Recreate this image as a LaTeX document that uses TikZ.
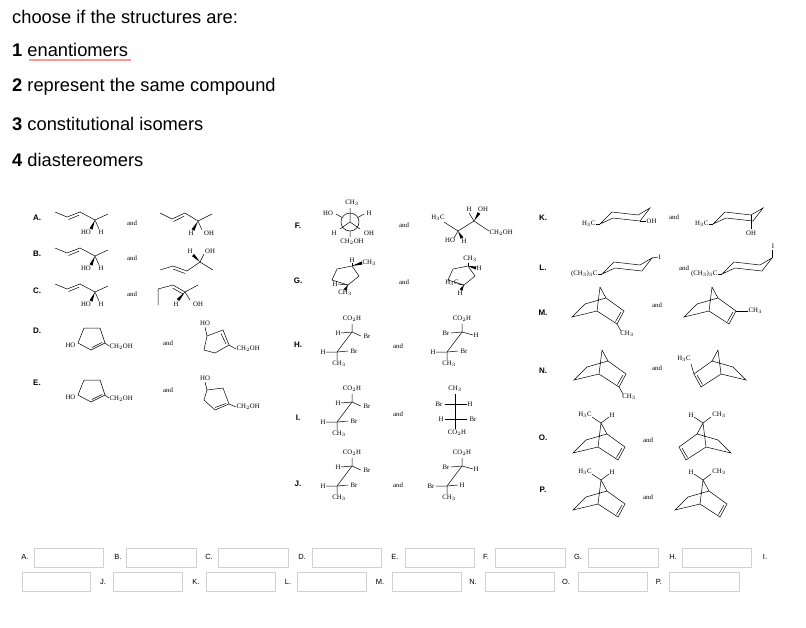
\documentclass[tikz,border=0pt]{standalone}
\usepackage{fontspec}
\setmainfont{Liberation Serif}
\newfontfamily\hdr{Liberation Sans}
\newfontfamily\lbl{Liberation Sans}
\usetikzlibrary{calc}
\tikzset{
 ch/.style={font=\fontsize{6.8}{6.8}\selectfont, inner sep=0.4pt},
 lb/.style={font=\lbl\bfseries\fontsize{8}{8}\selectfont, inner sep=0pt},
 bl/.style={font=\lbl\fontsize{7.5}{7.5}\selectfont, inner sep=0pt},
 hd/.style={font=\hdr\fontsize{18.3}{18.3}\selectfont, anchor=west, inner sep=0pt},
 bx/.style={draw=black!18, line width=0.6pt, fill=white},
 bond/.style={line width=0.5pt},
}
\newcommand{\wdg}[2]{\fill ($#1$) -- ($#2!1.6pt!90:#1$) -- ($#2!1.6pt!-90:#1$) -- cycle;}
\newcommand{\norb}{%
 \draw[bond] (0,0) -- (-3,24) (0,0) -- (6,11)
   (6,11) -- (-15,17) -- (-28,30) -- (-3,24)
   (6,11) -- (24,24) -- (17,37) -- (-3,24);
 \draw[bond] (21,25) -- (15.5,34.5);}
\newcommand{\chair}{%
 \draw[bond] (0,0) -- (12,-12) -- (38,-9) -- (50,-16) -- (40,-3) -- (13,-6) -- cycle;}
\newcommand{\cpent}{%
 \draw[bond] (0,0) -- (6,-15) -- (22,-15) -- (27,0) -- (13,7) -- cycle;}
\begin{document}
\begin{tikzpicture}[x=1pt,y=-1pt]
\useasboundingbox (0,0) rectangle (806,627);
\fill[white] (0,0) rectangle (806,627);
\node[hd] (h0) at (12,17) {choose if the structures are:};
\node[hd] (h1) at (12,50) {\textbf{1} enantiomers};
\draw[pink!80!red, line width=1.6pt] (29,60) -- (131,60);
\node[hd] (h2) at (12,87) {\textbf{2} represent the same compound};
\node[hd] (h3) at (12,124) {\textbf{3} constitutional isomers};
\node[hd] (h4) at (12,160) {\textbf{4} diastereomers};

\foreach \t/\x/\y in {A/37/218,B/37/254,C/37/291,D/37/331,E/37/383,
  F/298/226,G/298/281,H/298/345,I/298/418,J/298/484,
  K/543/218,L/543/268,M/543/313,N/543/371,O/543/438,P/543/490}
  \node[lb] (l\t) at (\x,\y) {\t.};
\foreach \n/\x/\y in {a/132/223,b/132/258,c/132/294,d/168/343,e/168/390,
  f/404/225,g/404/282,h/398/346,i/398/414,j/398/485,
  k/674/217,l/684/268,m/657/305,n/657/368,o/648/440,p/648/497}
  \node[ch] (and\n) at (\x,\y) {and};

\foreach \yy/\nm in {212/a,248/b,284/c}{
 \begin{scope}[shift={(55,\yy)}]
 \draw[bond] (0,0) -- (12,5) -- (25,0) -- (40,8) -- (53,2);
 \draw[bond] (13.5,7.5) -- (24,3.2);
 \wdg{(40,8)}{(36,17)}
 \draw[bond] (40,8) -- (44,17);
 \node[ch] (ho\nm) at (31,20) {HO};
 \node[ch] (h\nm) at (46,20) {H};
 \end{scope}}
\begin{scope}[shift={(160,213)}]
 \draw[bond] (0,0) -- (12,6) -- (25,0) -- (38,8) -- (52,1);
 \draw[bond] (13.5,8.5) -- (24,3.2);
 \wdg{(38,8)}{(33,17)}
 \draw[bond] (38,8) -- (42,17);
 \node[ch] (hA2) at (31,20) {H};
 \node[ch] (ohA2) at (49,20) {OH};
\end{scope}
\begin{scope}[shift={(160,270)}]
 \draw[bond] (0,0) -- (13,-4) -- (27,1) -- (40,-8) -- (53,0);
 \draw[bond] (13,-1) -- (25,3.5);
 \wdg{(40,-8)}{(33,-15)}
 \draw[bond] (40,-8) -- (44,-16);
 \node[ch] (hB2) at (30,-19) {H};
 \node[ch] (ohB2) at (50,-19) {OH};
\end{scope}
\begin{scope}[shift={(158,305)}]
 \draw[bond] (0,0) -- (0,-16) -- (15,-20) -- (27,-13) -- (40,-20);
 \draw[bond] (14.5,-17) -- (25,-11);
 \wdg{(27,-13)}{(20,-5)}
 \draw[bond] (27,-13) -- (32,-5);
 \node[ch] (hC2) at (18,-1) {H};
 \node[ch] (ohC2) at (40,-1) {OH};
\end{scope}

\foreach \yy/\nm in {343/d,395/e}{
 \begin{scope}[shift={(78,\yy)}]
 \cpent
 \draw[bond] (14,4.5) -- (24,-0.5);
 \node[ch,anchor=east] (hol\nm) at (-2,2) {HO};
 \node[ch,anchor=west] (chl\nm) at (31,4) {CH$_2$OH};
 \draw[bond] (27,0) -- (31,3);
 \end{scope}}
\begin{scope}[shift={(207,336)}]
 \draw[bond] (0,0) -- (16,-6) -- (22,9) -- (8,17) -- (-3,14) -- cycle;
 \draw[bond] (14,-2.5) -- (19,8);
 \node[ch] (hord) at (-2,-13) {HO};
 \draw[bond] (0,0) -- (-2,-9);
 \node[ch,anchor=west] (chrd) at (29,13) {CH$_2$OH};
 \draw[bond] (22,9) -- (29,13);
\end{scope}
\begin{scope}[shift={(207,390)}]
 \draw[bond] (0,0) -- (16,-2) -- (22,14) -- (8,20) -- (-3,10) -- cycle;
 \draw[bond] (19,13.5) -- (8,17.5);
 \node[ch] (hore) at (-2,-12) {HO};
 \draw[bond] (0,0) -- (-2,-8);
 \node[ch,anchor=west] (chre) at (29,17) {CH$_2$OH};
 \draw[bond] (22,14) -- (29,17);
\end{scope}

\begin{scope}[shift={(350,222)}]
 \draw[bond] (0,0) circle (9);
 \draw[bond] (0,0) -- (0,-14) (0,0) -- (-10,7) (0,0) -- (10,7);
 \draw[bond] (0,9) -- (0,15) (-7.8,-4.5) -- (-14,-8) (7.8,-4.5) -- (14,-8);
 \node[ch] (fch3) at (2,-19) {CH$_3$};
 \node[ch] (fho) at (-22,-9) {HO};
 \node[ch] (fh1) at (19,-9) {H};
 \node[ch] (fh2) at (-16,11) {H};
 \node[ch] (foh) at (19,11) {OH};
 \node[ch] (fch2) at (2,20) {CH$_2$OH};
\end{scope}
\begin{scope}[shift={(444,222)}]
 \node[ch] (fh3c) at (-6,-4) {H$_3$C};
 \draw[bond] (0,0) -- (14,9) -- (30,-1) -- (45,9);
 \wdg{(30,-1)}{(35,-9)}
 \draw[bond] (30,-1) -- (25,-9);
 \node[ch] (fh4) at (25,-13) {H};
 \node[ch] (foh2) at (39,-13) {OH};
 \draw[bond] (14,9) -- (10,16);
 \wdg{(14,9)}{(18,16)}
 \node[ch] (fho2) at (6,18) {HO};
 \node[ch] (fh5) at (20,19) {H};
 \node[ch,anchor=west] (fch2b) at (45,11) {CH$_2$OH};
\end{scope}

\begin{scope}[shift={(332,280)}]
 \draw[bond] (0,0) -- (5,-11) -- (20,-14) -- (27,-4) -- (16,5) -- cycle;
 \draw[bond] (20,-14) -- (20,-17);
 \node[ch] (gh1) at (20,-20) {H};
 \wdg{(20,-14)}{(30,-17)}
 \node[ch,anchor=west] (gch1) at (30,-17) {CH$_3$};
 \draw[bond] (16,5) -- (6,4);
 \node[ch] (gh2) at (3,4) {H};
 \wdg{(16,5)}{(13,10)}
 \node[ch] (gch2) at (13,13) {CH$_3$};
\end{scope}
\begin{scope}[shift={(448,280)}]
 \draw[bond] (0,0) -- (5,-11) -- (20,-14) -- (27,-4) -- (16,5) -- cycle;
 \draw[bond] (20,-14) -- (20,-17);
 \node[ch] (gch3) at (22,-21) {CH$_3$};
 \wdg{(20,-14)}{(28,-12)}
 \node[ch] (gh3) at (31,-12) {H};
 \draw[bond] (16,5) -- (10,4);
 \node[ch] (gh3c) at (4,3) {H$_3$C};
 \wdg{(16,5)}{(13,10)}
 \node[ch] (gh4) at (12,13) {H};
\end{scope}

\foreach \yy/\nm in {332/h,402/i,466/j}{
 \begin{scope}[shift={(352,\yy)}]
 \draw[bond] (0,-8) -- (0,0) -- (-15,20) -- (-15,28);
 \draw[bond] (0,0) -- (-11,1) (0,0) -- (9,4) (-15,20) -- (-26,20) (-15,20) -- (-4,19);
 \node[ch] (co\nm) at (0,-13) {CO$_2$H};
 \node[ch] (hh\nm) at (-14,1) {H};
 \node[ch] (br\nm) at (15,4) {Br};
 \node[ch] (hb\nm) at (-29,20) {H};
 \node[ch] (bb\nm) at (2,19) {Br};
 \node[ch] (me\nm) at (-13,32) {CH$_3$};
 \end{scope}}
\begin{scope}[shift={(462,332)}]
 \draw[bond] (0,-8) -- (0,0) -- (-15,20) -- (-15,28);
 \draw[bond] (0,0) -- (-11,1) (0,0) -- (11,3) (-15,20) -- (-26,20) (-15,20) -- (-4,19);
 \node[ch] (coh2) at (0,-13) {CO$_2$H};
 \node[ch] (brh2) at (-16,1) {Br};
 \node[ch] (hhh2) at (14,3) {H};
 \node[ch] (hbh2) at (-29,20) {H};
 \node[ch] (bbh2) at (2,19) {Br};
 \node[ch] (meh2) at (-13,32) {CH$_3$};
\end{scope}
\begin{scope}[shift={(455,404)}]
 \draw[bond] (0,-10) -- (0,25) (-10,0) -- (12,0) (-10,15) -- (12,15);
 \node[ch] (fi1) at (0,-15) {CH$_3$};
 \node[ch] (fi2) at (-16,0) {Br};
 \node[ch] (fi3) at (15,0) {H};
 \node[ch] (fi4) at (-14,15) {H};
 \node[ch] (fi5) at (18,15) {Br};
 \node[ch] (fi6) at (2,29) {CO$_2$H};
\end{scope}
\begin{scope}[shift={(462,466)}]
 \draw[bond] (0,-8) -- (0,0) -- (-15,20) -- (-15,28);
 \draw[bond] (0,0) -- (-11,1) (0,0) -- (11,3) (-15,20) -- (-26,20) (-15,20) -- (-4,19);
 \node[ch] (coj2) at (0,-13) {CO$_2$H};
 \node[ch] (brj2) at (-16,1) {Br};
 \node[ch] (hj2) at (14,3) {H};
 \node[ch] (bbj2) at (-31,20) {Br};
 \node[ch] (hbj2) at (0,19) {H};
 \node[ch] (mej2) at (-13,32) {CH$_3$};
\end{scope}

\begin{scope}[shift={(600,224)}]
 \chair
 \node[ch,anchor=east] (kme) at (-4,0) {H$_3$C};
 \draw[bond] (-4,0) -- (0,0);
 \draw[bond] (40,-3) -- (46,-3);
 \node[ch,anchor=west] (koh) at (46,-3) {OH};
\end{scope}
\begin{scope}[shift={(713,224)}]
 \chair
 \node[ch,anchor=east] (kme2) at (-4,0) {H$_3$C};
 \draw[bond] (-4,0) -- (0,0);
 \draw[bond] (38,-9) -- (38,5);
 \node[ch] (koh2) at (38,9) {OH};
\end{scope}
\begin{scope}[shift={(602,274)}]
 \chair
 \node[ch,anchor=east] (lme) at (-4,0) {(CH$_3$)$_3$C};
 \draw[bond] (-4,0) -- (0,0);
 \draw[bond] (50,-16) -- (56,-17);
 \node[ch,anchor=west] (li) at (56,-17) {I};
\end{scope}
\begin{scope}[shift={(722,274)}]
 \chair
 \node[ch,anchor=east] (lme2) at (-4,0) {(CH$_3$)$_3$C};
 \draw[bond] (50,-16) -- (50,-24);
 \draw[bond] (-4,0) -- (0,0);
 \node[ch] (li2) at (51,-28) {I};
\end{scope}

\begin{scope}[shift={(600,287)}] \norb
 \draw[bond] (17,37) -- (21,44);
 \node[ch] (mch1) at (27,47) {CH$_3$};
\end{scope}
\begin{scope}[shift={(712,287)}] \norb
 \draw[bond] (24,24) -- (36,24);
 \node[ch,anchor=west] (mch2) at (36,24) {CH$_3$};
\end{scope}
\begin{scope}[shift={(602,350)}] \norb
 \draw[bond] (17,37) -- (21,44);
 \node[ch] (nch1) at (27,47) {CH$_3$};
\end{scope}
\begin{scope}[shift={(718,350)}]
 \begin{scope}[xscale=-1]\norb\end{scope}
 \draw[bond] (-24,24) -- (-27,14);
 \node[ch] (nch2) at (-34,9) {H$_3$C};
\end{scope}
\begin{scope}[shift={(601,423)}] \norb
 \draw[bond] (0,0) -- (-9,-6) (0,0) -- (8,-6);
 \node[ch] (oa) at (-16,-8) {H$_3$C};
 \node[ch] (ob) at (11,-8) {H};
\end{scope}
\begin{scope}[shift={(703,423)}]
 \begin{scope}[xscale=-1]\norb\end{scope}
 \draw[bond] (0,0) -- (-9,-6) (0,0) -- (8,-6);
 \node[ch] (oc) at (-12,-8) {H};
 \node[ch] (od) at (16,-8) {CH$_3$};
\end{scope}
\begin{scope}[shift={(601,480)}] \norb
 \draw[bond] (0,0) -- (-9,-6) (0,0) -- (8,-6);
 \node[ch] (pa) at (-16,-8) {H$_3$C};
 \node[ch] (pb) at (11,-8) {H};
\end{scope}
\begin{scope}[shift={(703,480)}] \norb
 \draw[bond] (0,0) -- (-9,-6) (0,0) -- (8,-6);
 \node[ch] (pc) at (-12,-8) {H};
 \node[ch] (pd) at (16,-8) {CH$_3$};
\end{scope}

\foreach \t/\lx/\ba/\bb in {A/25/34/103,B/118/126/196,C/209/218/288,D/302/312/381,
  E/395/405/474,F/486/495/565,G/578/588/658,H/673/682/751}{
  \node[bl] (b\t) at (\lx,557) {\t.};
  \draw[bx] (\ba,548) rectangle (\bb,567);}
\node[bl] (bI) at (765,557) {I.};
\draw[bx] (22,572) rectangle (90,591);
\foreach \t/\lx/\ba/\bb in {J/103/113/182,K/196/206/275,L/288/297/366,M/380/392/461,
  N/473/485/554,O/566/578/647,P/659/669/739}{
  \node[bl] (b\t) at (\lx,582) {\t.};
  \draw[bx] (\ba,572) rectangle (\bb,591);}
\end{tikzpicture}
\end{document}
